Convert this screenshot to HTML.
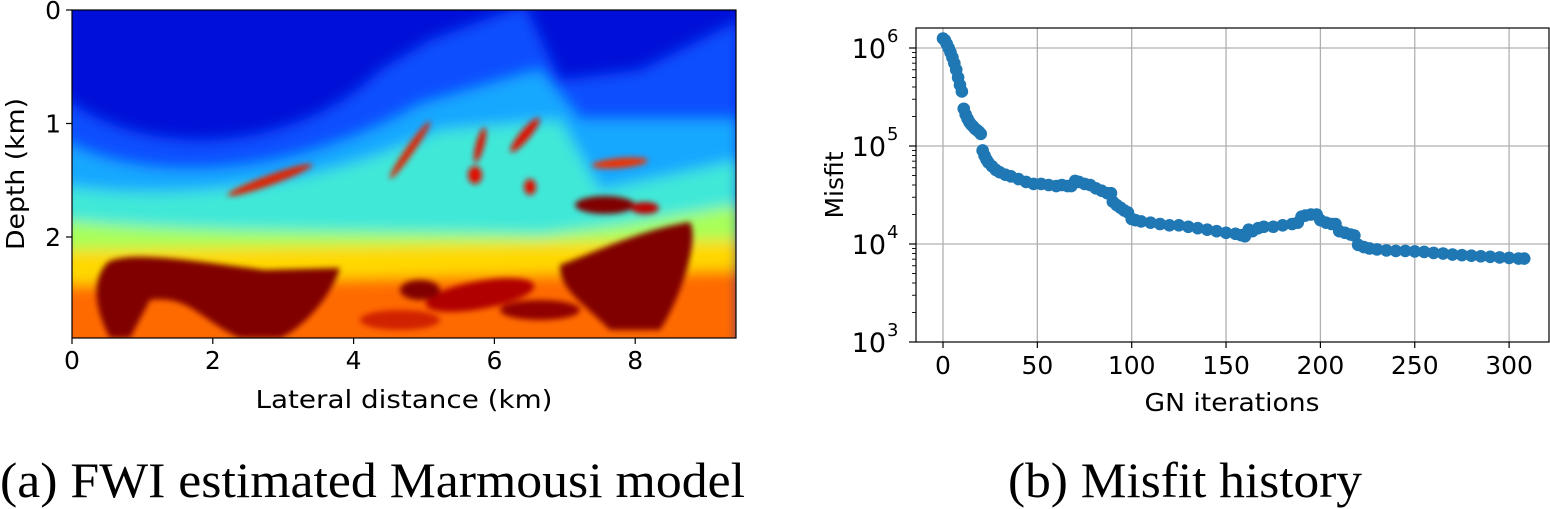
<!DOCTYPE html>
<html><head><meta charset="utf-8">
<style>
html,body{margin:0;padding:0;background:#fff;width:1550px;height:509px;overflow:hidden}
svg{display:block}
text{font-family:"DejaVu Sans","Liberation Sans",sans-serif;fill:#000}
.cap{font-family:"Liberation Serif",serif;font-size:50px}
</style></head><body>
<svg id="root" width="1550" height="509" viewBox="0 0 1550 509">
<defs>
<filter id="bl" x="-20%" y="-20%" width="140%" height="140%"><feGaussianBlur stdDeviation="7"/></filter>
<filter id="bl2" x="-50%" y="-50%" width="200%" height="200%"><feGaussianBlur stdDeviation="3"/></filter>
<clipPath id="hc"><rect x="72" y="10" width="664" height="328"/></clipPath>
</defs>
<g id="heat" clip-path="url(#hc)">
<rect x="60" y="0" width="690" height="350" fill="#0010d8"/>
<g filter="url(#bl)">
<path d="M60,95 C150,165 300,150 380,70 L430,40 L525,5 L560,80 L640,70 L740,20 L740,350 L60,350Z" fill="#0850ff"/>
<path d="M60,140 C150,190 300,175 420,105 L540,70 L580,120 L740,120 L740,350 L60,350Z" fill="#18a8ff"/>
<path d="M60,185 C150,200 300,195 440,130 L560,120 L600,190 L740,160 L740,350 L60,350Z" fill="#40e8d8"/>
<path d="M60,220 C200,235 400,230 540,235 L620,225 L740,205 L740,350 L60,350Z" fill="#a8ff58"/>
<path d="M60,250 L740,240 L740,350 L60,350Z" fill="#ffd800"/>
<path d="M60,285 L740,270 L740,350 L60,350Z" fill="#ff6a00"/>
</g>
<g filter="url(#bl2)">
<path d="M108,262 C130,250 200,262 265,270 L340,268 C330,300 300,330 280,338 L240,338 C200,320 190,295 150,300 L130,338 L110,338 C90,300 95,275 108,262Z" fill="#800000"/>
<path d="M560,265 C600,250 640,230 690,222 C700,240 680,300 660,330 L610,330 C580,300 560,290 560,265Z" fill="#800000"/>
<ellipse cx="480" cy="295" rx="55" ry="14" fill="#b00000" transform="rotate(-10 480 295)"/>
<ellipse cx="420" cy="290" rx="20" ry="10" fill="#800000"/>
<ellipse cx="540" cy="310" rx="40" ry="10" fill="#900000"/>
<ellipse cx="400" cy="320" rx="40" ry="10" fill="#d02000"/>
<ellipse cx="270" cy="180" rx="45" ry="5" fill="#e02000" transform="rotate(-20 270 180)"/>
<ellipse cx="410" cy="150" rx="35" ry="4" fill="#e02000" transform="rotate(-55 410 150)"/>
<ellipse cx="480" cy="145" rx="18" ry="4" fill="#e01000" transform="rotate(-75 480 145)"/>
<ellipse cx="475" cy="175" rx="7" ry="9" fill="#e01000"/>
<ellipse cx="525" cy="135" rx="22" ry="5" fill="#e01000" transform="rotate(-50 525 135)"/>
<ellipse cx="530" cy="187" rx="6" ry="8" fill="#e01000"/>
<ellipse cx="620" cy="163" rx="28" ry="5" fill="#f03000" transform="rotate(-5 620 163)"/>
<ellipse cx="605" cy="205" rx="30" ry="9" fill="#800000"/>
<ellipse cx="645" cy="208" rx="14" ry="6" fill="#c00000"/>
</g>
</g>
<rect x="72" y="10" width="664" height="328" fill="none" stroke="#000" stroke-width="1.2"/>
<g id="hx"></g>
<g id="hy"></g>
<text x="404" y="408" font-size="25" text-anchor="middle" textLength="297" lengthAdjust="spacingAndGlyphs">Lateral distance (km)</text>
<text transform="translate(24,174) rotate(-90)" font-size="25" text-anchor="middle" textLength="152" lengthAdjust="spacingAndGlyphs">Depth (km)</text>

<g id="grid"></g>
<g id="pts"></g>
<rect x="916" y="28" width="633" height="314" fill="none" stroke="#000" stroke-width="1.2"/>
<g id="mx"></g>
<g id="my"></g>
<text x="1232" y="411" font-size="25" text-anchor="middle" textLength="175" lengthAdjust="spacingAndGlyphs">GN iterations</text>
<text transform="translate(843,185) rotate(-90)" font-size="25" text-anchor="middle">Misfit</text>

<text class="cap" x="0" y="497" textLength="745" lengthAdjust="spacingAndGlyphs">(a) FWI estimated Marmousi model</text>
<text class="cap" x="1008" y="497" textLength="354" lengthAdjust="spacingAndGlyphs">(b) Misfit history</text>
</svg>
<script>
var heatXTicks=[0,2,4,6,8];
var heatYTicks=[0,1,2];
var iters=[0,1,2,3,4,5,6,7,8,9,10,11,12,13,14,15,16,17,18,19,20,21,22,23,24,26,28,30,33,36,40,44,48,52,56,60,63,66,68,70,72,75,78,81,84,87,89,90,92,94,96,98,100,102,105,110,115,120,125,130,135,140,145,150,155,158,160,162,164,167,170,175,180,185,188,190,192,195,198,200,203,206,208,210,213,216,218,220,223,226,230,235,240,245,250,255,260,265,270,275,280,285,290,295,300,305,308];
var misfit=[1.25e6,1.2e6,1.1e6,1.0e6,9e5,8e5,7e5,6e5,5e5,4.2e5,3.6e5,2.4e5,2.1e5,1.9e5,1.75e5,1.65e5,1.58e5,1.5e5,1.45e5,1.4e5,1.33e5,9e4,8e4,7.3e4,6.8e4,6.2e4,5.7e4,5.4e4,5.1e4,4.9e4,4.6e4,4.3e4,4.1e4,4.1e4,4.0e4,3.9e4,4.0e4,3.9e4,3.9e4,4.4e4,4.3e4,4.1e4,4.0e4,3.7e4,3.5e4,3.3e4,3.3e4,2.7e4,2.5e4,2.35e4,2.2e4,2.1e4,1.8e4,1.75e4,1.7e4,1.65e4,1.6e4,1.55e4,1.55e4,1.5e4,1.45e4,1.4e4,1.35e4,1.3e4,1.27e4,1.23e4,1.2e4,1.4e4,1.35e4,1.45e4,1.5e4,1.5e4,1.55e4,1.6e4,1.65e4,1.9e4,1.95e4,2.0e4,2.0e4,1.75e4,1.65e4,1.6e4,1.6e4,1.35e4,1.3e4,1.25e4,1.22e4,9.8e3,9.3e3,9.0e3,8.8e3,8.6e3,8.5e3,8.5e3,8.4e3,8.3e3,8.1e3,8.0e3,7.8e3,7.7e3,7.6e3,7.5e3,7.4e3,7.3e3,7.2e3,7.1e3,7.1e3];
var xTicks=[0,50,100,150,200,250,300];
var yExps=[3,4,5,6];

var NS='http://www.w3.org/2000/svg';
function mk(t,a,p){var e=document.createElementNS(NS,t);for(var k in a)e.setAttribute(k,a[k]);p.appendChild(e);return e;}
function hx(v){return 72+v*70.4;}
function hy(v){return 10+v*113.5;}
function mxs(v){return 943+v*1.887;}
function mys(v){return 342-98*(Math.log10(v)-3);}

var g=document.getElementById('hx');
heatXTicks.forEach(function(t){
  var l=mk('line',{x1:hx(t),x2:hx(t),y1:338,y2:344,stroke:'#000','stroke-width':1.2},g);
  
  
  var tx=mk('text',{x:hx(t),y:369,'font-size':25,'text-anchor':'middle'},g);tx.textContent=t;
  
  
});
g=document.getElementById('hy');
heatYTicks.forEach(function(t){
  var l=mk('line',{x1:66,x2:72,y1:hy(t),y2:hy(t),stroke:'#000','stroke-width':1.2},g);
  
  
  var tx=mk('text',{x:61,y:hy(t)+9,'font-size':25,'text-anchor':'end'},g);tx.textContent=t;
  
  
});

var gr=document.getElementById('grid'), gx=document.getElementById('mx'), gy=document.getElementById('my');
xTicks.forEach(function(t){
  var l=mk('line',{x1:mxs(t),x2:mxs(t),y1:28,y2:342,stroke:'#b0b0b0','stroke-width':1.3},gr);
  
  
  var k=mk('line',{x1:mxs(t),x2:mxs(t),y1:342,y2:348,stroke:'#000','stroke-width':1.2},gx);
  
  
  var tx=mk('text',{x:mxs(t),y:374,'font-size':25,'text-anchor':'middle'},gx);tx.textContent=t;
  
  
});
yExps.forEach(function(e){
  var v=Math.pow(10,e),y=mys(v);
  if(e>3){var l=mk('line',{x1:916,x2:1549,y1:y,y2:y,stroke:'#b0b0b0','stroke-width':1.3},gr);
  
  }
  var k=mk('line',{x1:909,x2:916,y1:y,y2:y,stroke:'#000','stroke-width':1.2},gy);
  
  
  var tx=mk('text',{x:886,y:y+10,'font-size':27,'text-anchor':'end'},gy);tx.textContent='10';
  
  
  var s=mk('text',{x:887,y:y-6,'font-size':18},gy);s.textContent=e;
  
  
  if(e<6)for(var m=2;m<10;m++){if(mys(m*v)<28)break;
    var mn=mk('line',{x1:912,x2:916,y1:mys(m*v),y2:mys(m*v),stroke:'#000','stroke-width':0.9},gy);
    
    }
});
var gp=document.getElementById('pts');
iters.forEach(function(it,i){
  var c=mk('circle',{cx:mxs(it),cy:mys(misfit[i]),r:6.3,fill:'#1f77b4'},gp);
  
  
});
</script>
</body></html>
